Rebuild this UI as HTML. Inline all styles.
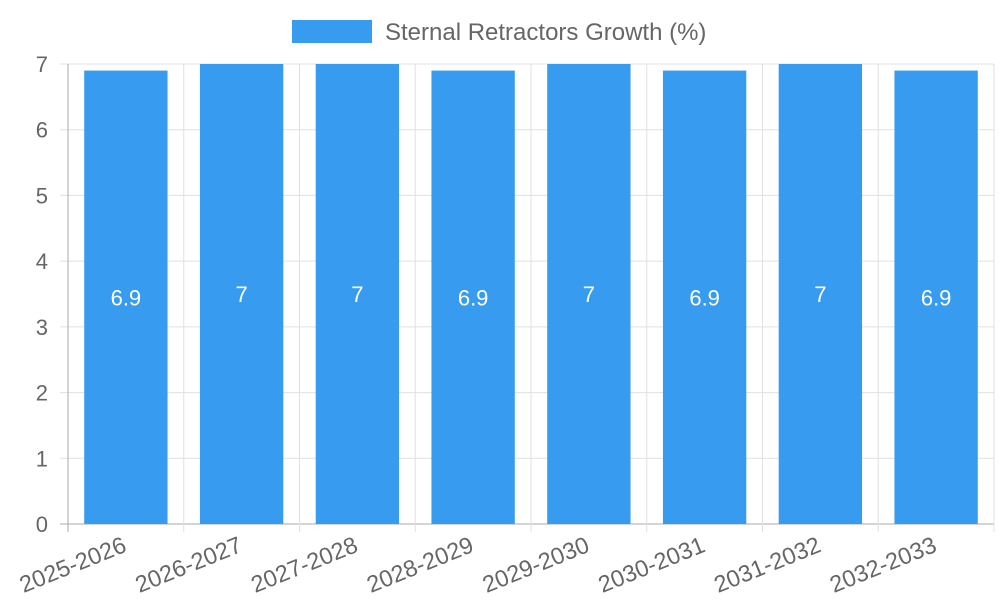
<!DOCTYPE html>
<html><head><meta charset="utf-8"><style>
body{margin:0;background:#fff;}
svg{font-family:"Liberation Sans",sans-serif;}
</style></head><body>
<svg id="chart" width="1000" height="600">
<g id="legend">
<rect x="292" y="20" width="80" height="23" fill="#379bf0"></rect>
<text x="385" y="40" font-size="24" fill="#666">Sternal Retractors Growth (%)</text>
</g>
<g id="grid"></g><g id="bars"></g><g id="axes"></g>
</svg>
<script>
const categories=["2025-2026","2026-2027","2027-2028","2028-2029","2029-2030","2030-2031","2031-2032","2032-2033"];
const values=[6.9,7,7,6.9,7,6.9,7,6.9];
const yTicks=[0,1,2,3,4,5,6,7];
const L=68,R=994,T=64,B=524,yMax=7;
const NS="http://www.w3.org/2000/svg";
const bw=(R-L)/categories.length;
const y=v=>B-(v/yMax)*(B-T);
const xc=i=>L+bw*(i+0.5);
function mk(tag,attrs,parent,txt){const e=document.createElementNS(NS,tag);for(const k in attrs)e.setAttribute(k,attrs[k]);if(txt!=null)e.textContent=txt;document.getElementById(parent).appendChild(e);return e;}
yTicks.forEach(t=>{
 const g=mk('line',{x1:L-8,x2:R,y1:y(t),y2:y(t),stroke:t===0?'#aaa':'#e0e0e0','stroke-width':1},'grid');
 
 
 const l=mk('text',{x:L-20,y:y(t)+8,'font-size':22,fill:'#666','text-anchor':'end'},'axes',t);
 
 
});
for(let i=0;i<=categories.length;i++){
 const x=L+bw*i;
 const g=mk('line',{x1:x,x2:x,y1:T,y2:B+8,stroke:i===0?'#aaa':'#e0e0e0','stroke-width':1},'grid');
 
 
}
categories.forEach((c,i)=>{
 const w=bw*0.72;
 const b=mk('rect',{x:xc(i)-w/2,y:y(values[i]),width:w,height:B-y(values[i]),fill:'#379bf0'},'bars');
 
 
 const v=mk('text',{x:xc(i),y:(y(values[i])+B)/2+8,'font-size':22,fill:'#fff','text-anchor':'middle'},'bars',values[i]);
 
 
 const ax=xc(i)+2, ay=B+27;
 const t=mk('text',{x:ax,y:ay,'font-size':23.5,fill:'#666','text-anchor':'end',transform:`rotate(-22 ${ax} ${ay})`},'axes',c);
 
 
});
</script>
</body></html>
